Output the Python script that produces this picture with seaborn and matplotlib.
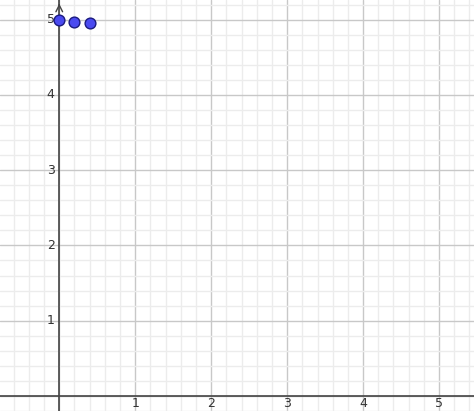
import matplotlib
matplotlib.use("Agg")
import matplotlib.pyplot as plt
import seaborn as sns
import numpy as np
import pandas as pd

xs = [0.0, 0.19, 0.41]
ys = [5.0, 4.97, 4.95]
xticks = [1, 2, 3, 4, 5]
yticks = [1, 2, 3, 4, 5]

sns.set_theme(style="white")
plt.rcParams['font.family'] = ['DejaVu Sans']
fig = plt.figure(figsize=(4.74, 4.11), dpi=100)
ax = fig.add_axes([0, 0, 1, 1])
x0, x1 = -0.78, 5.46
y0, y1 = -0.2, 5.26
ax.set_xlim(x0, x1); ax.set_ylim(y0, y1)
for s in ax.spines.values():
    s.set_visible(False)
ax.set_xticks([]); ax.set_yticks([])
for v in np.arange(-0.6, 5.5, 0.2):
    major = abs(v - round(v)) < 1e-6
    ax.axvline(v, color='#c8c8c8' if major else '#ececec', lw=1, zorder=0)
for v in np.arange(-0.2, 5.3, 0.2):
    major = abs(v - round(v)) < 1e-6
    ax.axhline(v, color='#c8c8c8' if major else '#ececec', lw=1, zorder=0)
ax.axhline(0, color='#444444', lw=1.2, zorder=1)
ax.axvline(0, color='#444444', lw=1.2, zorder=1)
ax.annotate('', xy=(0, y1 - 0.01), xytext=(0, y1 - 0.12),
            arrowprops=dict(arrowstyle='->', color='#444444', lw=1))
for t in xticks:
    ax.text(t, -0.02, str(t), ha='center', va='top', fontsize=9, color='#333333')
for t in yticks:
    ax.text(-0.06, t, str(t), ha='right', va='center', fontsize=9, color='#333333')
df = pd.DataFrame({'x': xs, 'y': ys})
sns.scatterplot(data=df, x='x', y='y', ax=ax, s=60, color='#4a4af0',
                edgecolor='#1a1a80', linewidth=1, zorder=3)
ax.set_xlabel(''); ax.set_ylabel('')
fig.savefig('out.png', dpi=100)
